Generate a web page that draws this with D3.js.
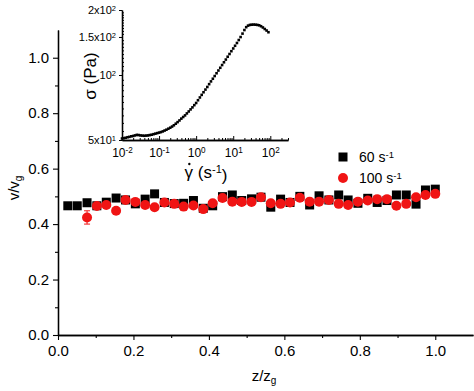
<!DOCTYPE html>
<html>
<head>
<meta charset="utf-8">
<script src="https://cdn.jsdelivr.net/npm/d3@7"></script>
<style>
  body { margin: 0; background: #fff; }
  svg { display: block; font-family: "Liberation Sans", Arial, sans-serif; }
</style>
</head>
<body>
<svg width="474" height="391"></svg>
<script>
// main plot: reduced velocity profile across the gap
var zPos = [0.026, 0.051, 0.077, 0.103, 0.128, 0.154, 0.179, 0.205, 0.231, 0.256,
            0.282, 0.308, 0.333, 0.359, 0.385, 0.410, 0.436, 0.462, 0.487, 0.513,
            0.538, 0.564, 0.590, 0.615, 0.641, 0.667, 0.692, 0.718, 0.744, 0.769,
            0.795, 0.821, 0.846, 0.872, 0.897, 0.923, 0.949, 0.974, 1.000];

var v60 = [0.466, 0.466, 0.477, 0.466, 0.479, 0.494, 0.487, 0.473, 0.490, 0.509,
           0.478, 0.474, 0.475, 0.485, 0.457, 0.466, 0.499, 0.505, 0.485, 0.491,
           0.497, 0.461, 0.490, 0.478, 0.500, 0.469, 0.502, 0.487, 0.505, 0.487,
           0.475, 0.493, 0.478, 0.485, 0.505, 0.505, 0.472, 0.523, 0.526];

// 100 s-1 series starts at the third z position
var z100 = zPos.slice(2);
var v100 = [0.424, 0.465, 0.469, 0.448, 0.487, 0.480, 0.469, 0.461, 0.478, 0.473,
            0.463, 0.467, 0.454, 0.475, 0.494, 0.481, 0.480, 0.480, 0.497, 0.475,
            0.473, 0.478, 0.495, 0.481, 0.481, 0.487, 0.473, 0.469, 0.481, 0.485,
            0.490, 0.490, 0.466, 0.473, 0.497, 0.505, 0.509];
var err100 = [0.024, 0.008, 0.008, 0.008, 0.008, 0.008, 0.008, 0.008, 0.008, 0.008,
              0.008, 0.008, 0.008, 0.008, 0.008, 0.008, 0.008, 0.008, 0.008, 0.008,
              0.008, 0.008, 0.008, 0.008, 0.008, 0.008, 0.008, 0.008, 0.008, 0.008,
              0.008, 0.008, 0.008, 0.008, 0.008, 0.008, 0.008];

var xMajor = [0, 0.2, 0.4, 0.6, 0.8, 1.0];
var xMinor = [0.1, 0.3, 0.5, 0.7, 0.9];
var yMajor = [0, 0.2, 0.4, 0.6, 0.8, 1.0];
var yMinor = [0.1, 0.3, 0.5, 0.7, 0.9];
var seriesNames = ["60 s", "100 s"];

// inset: flow curve (stress vs shear rate)
var shearRate = [
  0.0100, 0.0112, 0.0126, 0.0141, 0.0158, 0.0178, 0.0200, 0.0224, 0.0251, 0.0282,
  0.0316, 0.0355, 0.0398, 0.0447, 0.0501, 0.0562, 0.0631, 0.0708, 0.0794, 0.0891,
  0.100, 0.112, 0.126, 0.141, 0.158, 0.178, 0.200, 0.224, 0.251, 0.282,
  0.316, 0.355, 0.398, 0.447, 0.501, 0.562, 0.631, 0.708, 0.794, 0.891,
  1.00, 1.12, 1.26, 1.41, 1.58, 1.78, 2.00, 2.24, 2.51, 2.82,
  3.16, 3.55, 3.98, 4.47, 5.01, 5.62, 6.31, 7.08, 7.94, 8.91,
  10.0, 11.2, 12.6, 14.1, 15.8, 17.8, 20.0, 22.4, 25.1, 28.2,
  31.6, 35.5, 39.8, 44.7, 50.1, 56.2, 63.1, 70.8, 79.4, 89.1];
var stress = [
  50.8, 51.0, 51.2, 51.5, 51.7, 52.0, 52.2, 52.5, 52.8, 52.7,
  52.5, 52.4, 52.3, 52.4, 52.5, 52.7, 52.9, 53.2, 53.5, 53.8,
  54.1, 54.4, 54.8, 55.3, 55.8, 56.4, 57.0, 57.7, 58.5, 59.5,
  60.5, 61.6, 62.8, 63.9, 65.0, 66.4, 67.8, 69.3, 70.8, 72.5,
  74.2, 76.4, 78.7, 80.9, 83.2, 85.6, 88.0, 90.7, 93.4, 96.1,
  98.9, 101.9, 104.9, 108.0, 111.2, 114.5, 117.9, 121.5, 125.1, 128.9,
  132.7, 136.6, 140.7, 145.2, 149.9, 155.5, 161.5, 166.5, 169.3, 170.6,
  171.0, 171.2, 171.0, 170.6, 169.9, 168.2, 166.0, 163.3, 160.7, 157.8];
var insetXTicks = [0.01, 0.1, 1, 10, 100];
var insetXLabels = [["10", "-2"], ["10", "-1"], ["10", "0"], ["10", "1"], ["10", "2"]];
var insetYTicks = [50, 100, 150, 200];
var insetYLabels = [["5x10", "1"], ["10", "2"], ["1.5x10", "2"], ["2x10", "2"]];

var svg = d3.select('svg');
var red = '#f01414';

// put base text + superscript into a text selection
function supText(sel, base, sup, size) {
  sel.text(null);
  sel.append('tspan').text(base);
  sel.append('tspan').attr('dy', '-0.45em').attr('font-size', size * 0.68).text(sup);
}

// ---------- main chart ----------
var x = d3.scaleLinear().domain([0, 1.1]).range([58, 473]);
var y = d3.scaleLinear().domain([0, 1.1]).range([335, 30]);

var gx = svg.append('g').attr('transform', 'translate(0,335)')
  .call(d3.axisBottom(x).tickValues(xMajor).tickFormat(d3.format('.1f'))
        .tickSize(5).tickSizeOuter(0).tickPadding(5));
svg.append('g').attr('transform', 'translate(0,335)')
  .call(d3.axisBottom(x).tickValues(xMinor).tickFormat('').tickSize(3).tickSizeOuter(0));

var gy = svg.append('g').attr('transform', 'translate(58,0)')
  .call(d3.axisLeft(y).tickValues(yMajor).tickFormat(d3.format('.1f'))
        .tickSize(5).tickSizeOuter(0).tickPadding(4));
svg.append('g').attr('transform', 'translate(58,0)')
  .call(d3.axisLeft(y).tickValues(yMinor).tickFormat('').tickSize(3).tickSizeOuter(0));

svg.selectAll('.domain').attr('stroke', '#000').attr('stroke-width', 1.3);
svg.selectAll('.tick line').attr('stroke', '#000').attr('stroke-width', 1.1);
gx.selectAll('text').attr('font-size', 15).attr('font-family', 'Liberation Sans, Arial').attr('fill', '#000');
gy.selectAll('text').attr('font-size', 15).attr('font-family', 'Liberation Sans, Arial').attr('fill', '#000');

// axis titles
var xt = svg.append('text').attr('x', 264).attr('y', 381).attr('text-anchor', 'middle').attr('font-size', 15);
xt.append('tspan').text('z/z');
xt.append('tspan').attr('dy', '0.3em').attr('font-size', 10).text('g');

var yt = svg.append('text').attr('transform', 'translate(19,188) rotate(-90)')
  .attr('text-anchor', 'middle').attr('font-size', 15);
yt.append('tspan').text('v/v');
yt.append('tspan').attr('dy', '0.3em').attr('font-size', 10).text('g');

// error bars (red series)
var eb = svg.append('g').attr('stroke', red).attr('stroke-width', 1);
eb.selectAll('line.v').data(v100).enter().append('line')
  .attr('x1', function(d, i){ return x(z100[i]); })
  .attr('x2', function(d, i){ return x(z100[i]); })
  .attr('y1', function(d, i){ return y(d - err100[i]); })
  .attr('y2', function(d, i){ return y(d + err100[i]); });
eb.selectAll('line.lo').data(v100).enter().append('line')
  .attr('x1', function(d, i){ return x(z100[i]) - 3; })
  .attr('x2', function(d, i){ return x(z100[i]) + 3; })
  .attr('y1', function(d, i){ return y(d - err100[i]); })
  .attr('y2', function(d, i){ return y(d - err100[i]); });
eb.selectAll('line.hi').data(v100).enter().append('line')
  .attr('x1', function(d, i){ return x(z100[i]) - 3; })
  .attr('x2', function(d, i){ return x(z100[i]) + 3; })
  .attr('y1', function(d, i){ return y(d + err100[i]); })
  .attr('y2', function(d, i){ return y(d + err100[i]); });

// black squares
svg.append('g').selectAll('rect').data(v60).enter().append('rect')
  .attr('x', function(d, i){ return x(zPos[i]) - 4.5; })
  .attr('y', function(d){ return y(d) - 4.5; })
  .attr('width', 9).attr('height', 9)
  .attr('fill', '#000');

// red circles on top
svg.append('g').selectAll('circle').data(v100).enter().append('circle')
  .attr('cx', function(d, i){ return x(z100[i]); })
  .attr('cy', function(d){ return y(d); })
  .attr('r', 5)
  .attr('fill', red);

// legend
var leg = svg.append('g');
leg.append('rect').attr('x', 338.5).attr('y', 152.5).attr('width', 9).attr('height', 9).attr('fill', '#000');
leg.append('circle').attr('cx', 343).attr('cy', 178).attr('r', 5).attr('fill', red);
supText(leg.append('text').attr('x', 359).attr('y', 162).attr('font-size', 14), seriesNames[0], '-1', 14);
supText(leg.append('text').attr('x', 359).attr('y', 183).attr('font-size', 14), seriesNames[1], '-1', 14);

// ---------- inset ----------
var ix = d3.scaleLog().domain([0.01, 300]).range([122, 288]);
var iy = d3.scaleLog().domain([50, 200]).range([140, 10]);

var minorX = [];
[0.01, 0.1, 1, 10, 100].forEach(function(dec){
  [2, 3, 4, 5, 6, 7, 8, 9].forEach(function(m){ if (dec * m <= 300) minorX.push(dec * m); });
});
var minorY = d3.range(55, 200, 5).filter(function(v){ return insetYTicks.indexOf(v) < 0; });

var ixa = svg.append('g').attr('transform', 'translate(0,140)')
  .call(d3.axisBottom(ix).tickValues(insetXTicks).tickSize(-4).tickSizeOuter(0).tickPadding(8));
svg.append('g').attr('transform', 'translate(0,140)')
  .call(d3.axisBottom(ix).tickValues(minorX).tickFormat('').tickSize(-2).tickSizeOuter(0));
ixa.selectAll('.tick text').each(function(d, i){
  supText(d3.select(this).attr('font-size', 12).attr('fill', '#000'), insetXLabels[i][0], insetXLabels[i][1], 12);
});

var iya = svg.append('g').attr('transform', 'translate(122,0)')
  .call(d3.axisLeft(iy).tickValues(insetYTicks).tickSize(3).tickSizeOuter(0).tickPadding(3));
svg.append('g').attr('transform', 'translate(122,0)')
  .call(d3.axisLeft(iy).tickValues(minorY).tickFormat('').tickSize(-2).tickSizeOuter(0));
iya.selectAll('.tick text').each(function(d, i){
  supText(d3.select(this).attr('font-size', 11).attr('fill', '#000'), insetYLabels[i][0], insetYLabels[i][1], 11);
});
svg.selectAll('.domain').attr('stroke', '#000').attr('stroke-width', 1.3);
svg.selectAll('.tick line').attr('stroke', '#000');

// flow curve dots
svg.append('g').selectAll('rect').data(stress).enter().append('rect')
  .attr('x', function(d, i){ return ix(shearRate[i]) - 1.3; })
  .attr('y', function(d){ return iy(d) - 1.3; })
  .attr('width', 2.6).attr('height', 2.6)
  .attr('fill', '#000');

// inset titles
var ixt = svg.append('text').attr('x', 206).attr('y', 178).attr('text-anchor', 'middle').attr('font-size', 17);
ixt.append('tspan').text('\u03B3 (s');
ixt.append('tspan').attr('dy', '-0.45em').attr('font-size', 11).text('-1');
ixt.append('tspan').attr('dy', '0.45em').text(')');
// overdot on gamma
var gBox = ixt.node().getExtentOfChar(0);
svg.append('circle')
  .attr('cx', gBox.x + gBox.width / 2 + 0.5)
  .attr('cy', 178 - 14)
  .attr('r', 1.2).attr('fill', '#000');

svg.append('text').attr('transform', 'translate(96,76) rotate(-90)')
  .attr('text-anchor', 'middle').attr('font-size', 17).text('\u03C3 (Pa)');
</script>
</body>
</html>
